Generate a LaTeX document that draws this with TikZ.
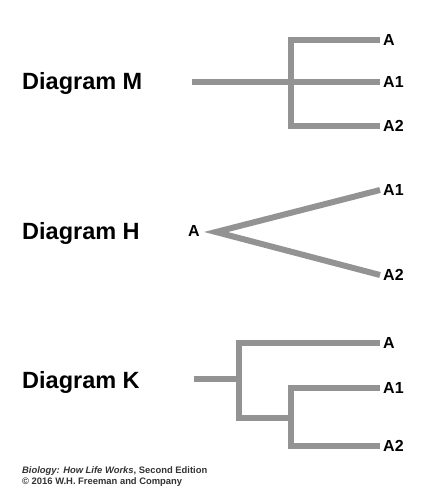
\documentclass[tikz,border=0pt]{standalone}
\usepackage{fontspec}
\setmainfont{Liberation Sans}
\usetikzlibrary{positioning}
\definecolor{branchgray}{HTML}{939393}
\tikzset{
  branch/.style={line width=6pt, branchgray, line join=miter, line cap=butt},
  title/.style={anchor=west, inner sep=0pt, font=\bfseries\fontsize{23.5}{25}\selectfont},
  tip/.style={anchor=west, inner sep=3pt, font=\bfseries\fontsize{16}{18}\selectfont},
}
\begin{document}
\begin{tikzpicture}[x=1pt,y=-1pt]
\useasboundingbox (0,0) rectangle (436,500);

% Diagram M
\node[title] (mT) at (22,83) {Diagram M};
\coordinate (mR) at (192,82);
\coordinate (mJ) at (291,82);
\foreach \n/\y/\t in {A/40/A,B/82/A1,C/126/A2}
{
    \node[tip] (m\n) at (380,\y) {\t};
    \coordinate (mJ\n) at (291,\y);
}
\draw[branch](mR)--(mJ);
\draw[branch](mB.west)--(mJB);
\draw[branch](mA.west)--(mJA)--(mJC)--(mC.west);

% Diagram H
\node[title] (hT) at (22,233) {Diagram H};
\node[tip, inner sep=0pt] (hA) at (188,231) {A};
\coordinate (hV) at (216,232);
\node[tip] (hB) at (380,190) {A1};
\node[tip] (hC) at (380,275) {A2};
\draw[branch](hB.west)--(hV)--(hC.west);

% Diagram K
\node[title] (kT) at (22,382) {Diagram K};
\coordinate (kR) at (194,379);
\coordinate (kJ) at (239,379);
\node[tip] (kA) at (380,343) {A};
\node[tip] (kB) at (380,388) {A1};
\node[tip] (kC) at (380,446) {A2};
\coordinate (kJA) at (239,343);
\coordinate (kJD) at (239,418);
\coordinate (kD) at (291,418);
\coordinate (kDB) at (291,388);
\coordinate (kDC) at (291,446);
\draw[branch](kR)--(kJ);
\draw[branch](kA.west)--(kJA)--(kJD)--(kD);
\draw[branch](kB.west)--(kDB)--(kDC)--(kC.west);

% credit
\node[anchor=north west, inner sep=0pt, align=left, text=black!80,
      font=\bfseries\fontsize{9.4}{11}\selectfont] (cr) at (22,466)
  {\textit{Biology: How Life Works}, Second Edition\\\textcopyright{} 2016 W.H. Freeman and Company};
\end{tikzpicture}
\end{document}
